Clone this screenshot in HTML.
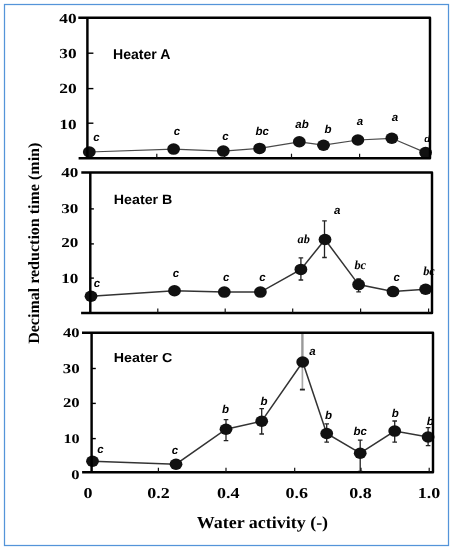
<!DOCTYPE html>
<html><head><meta charset="utf-8"><title>Decimal reduction time vs water activity</title>
<style>
html,body{margin:0;padding:0;background:#fff;}
body{width:453px;height:550px;overflow:hidden;}
svg{display:block;text-rendering:geometricPrecision;}
.tk{font-family:"Liberation Serif",serif;font-weight:bold;fill:#000;}
.hd{font-family:"Liberation Sans",sans-serif;font-weight:bold;fill:#000;}
.ls{font-family:"Liberation Sans",sans-serif;font-weight:bold;font-style:italic;fill:#000;}
.lt{font-family:"Liberation Serif",serif;font-weight:bold;font-style:italic;fill:#000;}
</style></head><body>
<svg width="453" height="550" viewBox="0 0 453 550">
<rect x="4.5" y="4.5" width="444" height="541" fill="none" stroke="#5494d9" stroke-width="1.25"/>
<path d="M89.3,152.0 L173.6,149.1 L223.3,151.1 L259.6,148.4 L299.3,141.8 L323.5,145.2 L357.9,140.0 L391.8,138.3 L425.6,152.6" fill="none" stroke="#4a4a4a" stroke-width="1.2"/>
<ellipse cx="89.3" cy="152.0" rx="6.4" ry="5.75" fill="#111"/>
<ellipse cx="173.6" cy="149.1" rx="6.4" ry="5.75" fill="#111"/>
<ellipse cx="223.3" cy="151.1" rx="6.4" ry="5.75" fill="#111"/>
<ellipse cx="259.6" cy="148.4" rx="6.4" ry="5.75" fill="#111"/>
<ellipse cx="299.3" cy="141.8" rx="6.4" ry="5.75" fill="#111"/>
<ellipse cx="323.5" cy="145.2" rx="6.4" ry="5.75" fill="#111"/>
<ellipse cx="357.9" cy="140.0" rx="6.4" ry="5.75" fill="#111"/>
<ellipse cx="391.8" cy="138.3" rx="6.4" ry="5.75" fill="#111"/>
<ellipse cx="425.6" cy="152.6" rx="6.4" ry="5.75" fill="#111"/>
<path d="M78.3,17.7 H430.0 V158.2 H78.6 M87.4,17.7 V158.2" fill="none" stroke="#000" stroke-width="2.45" stroke-linejoin="round"/>
<line x1="87.4" y1="53.2" x2="93.4" y2="53.2" stroke="#000" stroke-width="1.4"/>
<line x1="87.4" y1="88.6" x2="93.4" y2="88.6" stroke="#000" stroke-width="1.4"/>
<line x1="87.4" y1="123.2" x2="93.4" y2="123.2" stroke="#000" stroke-width="1.4"/>
<line x1="156.8" y1="158.2" x2="156.8" y2="153.7" stroke="#111" stroke-width="1.2"/>
<line x1="224.5" y1="158.2" x2="224.5" y2="153.7" stroke="#111" stroke-width="1.2"/>
<line x1="291.5" y1="158.2" x2="291.5" y2="153.7" stroke="#111" stroke-width="1.2"/>
<line x1="359.6" y1="158.2" x2="359.6" y2="153.7" stroke="#111" stroke-width="1.2"/>
<text class="tk" style="font-size:13.82px" transform="translate(59.37,22.68) scale(1.250,1)">40</text>
<text class="tk" style="font-size:13.82px" transform="translate(59.37,57.88) scale(1.250,1)">30</text>
<text class="tk" style="font-size:13.96px" transform="translate(59.19,92.98) scale(1.250,1)">20</text>
<text class="tk" style="font-size:13.96px" transform="translate(59.45,128.78) scale(1.231,1)">10</text>
<text class="hd" style="font-size:14.05px" transform="translate(113.02,59.48)">Heater A</text>
<text class="ls" style="font-size:11.50px" transform="translate(93.27,140.85)">c</text>
<text class="ls" style="font-size:11.50px" transform="translate(173.77,135.45)">c</text>
<text class="ls" style="font-size:11.50px" transform="translate(222.37,140.35)">c</text>
<text class="ls" style="font-size:11.50px" transform="translate(255.45,135.13)">bc</text>
<text class="ls" style="font-size:11.50px" transform="translate(295.29,127.93)">ab</text>
<text class="ls" style="font-size:11.50px" transform="translate(324.50,132.63)">b</text>
<text class="ls" style="font-size:11.50px" transform="translate(356.85,124.95)">a</text>
<text class="ls" style="font-size:11.50px" transform="translate(391.65,121.35)">a</text>
<text class="ls" style="font-size:9.50px" transform="translate(424.18,142.01)">d</text>
<path d="M91.0,296.2 L174.5,290.7 L224.3,292.1 L260.4,292.1 L300.9,269.4 L325.0,239.5 L358.6,284.6 L393.0,291.6 L425.6,289.3" fill="none" stroke="#333" stroke-width="1.5"/>
<path d="M300.9,257.9 V280.0 M298.59999999999997,257.9 h4.6 M298.59999999999997,280.0 h4.6" stroke="#222" stroke-width="1.3" fill="none"/>
<path d="M324.5,220.9 V257.5 M322.2,220.9 h4.6 M322.2,257.5 h4.6" stroke="#222" stroke-width="1.3" fill="none"/>
<path d="M358.6,279 V291.8 M356.3,279 h4.6 M356.3,291.8 h4.6" stroke="#222" stroke-width="1.3" fill="none"/>
<ellipse cx="91.0" cy="296.2" rx="6.4" ry="5.75" fill="#111"/>
<ellipse cx="174.5" cy="290.7" rx="6.4" ry="5.75" fill="#111"/>
<ellipse cx="224.3" cy="292.1" rx="6.4" ry="5.75" fill="#111"/>
<ellipse cx="260.4" cy="292.1" rx="6.4" ry="5.75" fill="#111"/>
<ellipse cx="300.9" cy="269.4" rx="6.4" ry="5.75" fill="#111"/>
<ellipse cx="325.0" cy="239.5" rx="6.4" ry="5.75" fill="#111"/>
<ellipse cx="358.6" cy="284.6" rx="6.4" ry="5.75" fill="#111"/>
<ellipse cx="393.0" cy="291.6" rx="6.4" ry="5.75" fill="#111"/>
<ellipse cx="425.6" cy="289.3" rx="6.4" ry="5.75" fill="#111"/>
<path d="M81.3,172.4 H432.0 V313.0 H81.1 M90.3,172.4 V313.0" fill="none" stroke="#000" stroke-width="2.45" stroke-linejoin="round"/>
<line x1="90.3" y1="208.9" x2="93.89999999999999" y2="208.9" stroke="#000" stroke-width="1.4"/>
<line x1="90.3" y1="243.9" x2="93.89999999999999" y2="243.9" stroke="#000" stroke-width="1.4"/>
<line x1="90.3" y1="278.1" x2="93.89999999999999" y2="278.1" stroke="#000" stroke-width="1.4"/>
<line x1="157.8" y1="313.0" x2="157.8" y2="308.5" stroke="#111" stroke-width="1.2"/>
<line x1="225.2" y1="313.0" x2="225.2" y2="308.5" stroke="#111" stroke-width="1.2"/>
<line x1="292.7" y1="313.0" x2="292.7" y2="308.5" stroke="#111" stroke-width="1.2"/>
<line x1="360.6" y1="313.0" x2="360.6" y2="308.5" stroke="#111" stroke-width="1.2"/>
<line x1="428.6" y1="313.0" x2="428.6" y2="308.5" stroke="#111" stroke-width="1.2"/>
<text class="tk" style="font-size:13.67px" transform="translate(61.24,177.29) scale(1.250,1)">40</text>
<text class="tk" style="font-size:13.67px" transform="translate(61.24,212.69) scale(1.250,1)">30</text>
<text class="tk" style="font-size:13.67px" transform="translate(61.24,247.49) scale(1.250,1)">20</text>
<text class="tk" style="font-size:13.96px" transform="translate(61.15,283.18) scale(1.231,1)">10</text>
<text class="hd" style="font-size:13.50px" transform="translate(113.81,203.59) scale(1.054,1)">Heater B</text>
<text class="ls" style="font-size:11.50px" transform="translate(93.87,287.25)">c</text>
<text class="ls" style="font-size:11.50px" transform="translate(172.87,277.45)">c</text>
<text class="ls" style="font-size:11.50px" transform="translate(222.97,280.75)">c</text>
<text class="ls" style="font-size:11.50px" transform="translate(259.17,280.75)">c</text>
<text class="lt" style="font-size:12.30px" transform="translate(297.55,242.83)">ab</text>
<text class="ls" style="font-size:11.50px" transform="translate(333.95,213.85)">a</text>
<text class="lt" style="font-size:12.30px" transform="translate(354.43,268.63)">bc</text>
<text class="ls" style="font-size:11.50px" transform="translate(393.57,280.55)">c</text>
<text class="lt" style="font-size:12.30px" transform="translate(423.13,274.63)">bc</text>
<path d="M92.5,461.2 L176.0,464.2 L226.0,429.2 L261.7,421.2 L302.7,362.0 L326.7,433.5 L360.2,453.2 L394.7,431.1 L428.1,437.0" fill="none" stroke="#333" stroke-width="1.5"/>
<path d="M226.0,419.7 V440.6 M223.7,419.7 h4.6 M223.7,440.6 h4.6" stroke="#222" stroke-width="1.3" fill="none"/>
<path d="M261.7,408.6 V434.0 M259.4,408.6 h4.6 M259.4,434.0 h4.6" stroke="#222" stroke-width="1.3" fill="none"/>
<path d="M302.4,332.7 V362" stroke="#999" stroke-width="2.4" fill="none"/>
<path d="M302.4,362 V389.6" stroke="#a8a8a8" stroke-width="1.7" fill="none"/>
<path d="M299.9,389.6 h5" stroke="#222" stroke-width="1.8" fill="none"/>
<path d="M326.7,423.9 V442.2 M324.4,423.9 h4.6 M324.4,442.2 h4.6" stroke="#222" stroke-width="1.3" fill="none"/>
<path d="M360.2,440.1 V471.3 M357.9,440.1 h4.6 M357.9,471.3 h4.6" stroke="#222" stroke-width="1.3" fill="none"/>
<path d="M394.7,421.0 V442.2 M392.4,421.0 h4.6 M392.4,442.2 h4.6" stroke="#222" stroke-width="1.3" fill="none"/>
<path d="M428.1,427.6 V445.7 M425.8,427.6 h4.6 M425.8,445.7 h4.6" stroke="#222" stroke-width="1.3" fill="none"/>
<ellipse cx="92.5" cy="461.2" rx="6.4" ry="5.75" fill="#111"/>
<ellipse cx="176.0" cy="464.2" rx="6.4" ry="5.75" fill="#111"/>
<ellipse cx="226.0" cy="429.2" rx="6.4" ry="5.75" fill="#111"/>
<ellipse cx="261.7" cy="421.2" rx="6.4" ry="5.75" fill="#111"/>
<ellipse cx="302.7" cy="362.0" rx="6.4" ry="5.75" fill="#111"/>
<ellipse cx="326.7" cy="433.5" rx="6.4" ry="5.75" fill="#111"/>
<ellipse cx="360.2" cy="453.2" rx="6.4" ry="5.75" fill="#111"/>
<ellipse cx="394.7" cy="431.1" rx="6.4" ry="5.75" fill="#111"/>
<ellipse cx="428.1" cy="437.0" rx="6.4" ry="5.75" fill="#111"/>
<path d="M82.0,332.7 H433.0 V472.2 H82.1 M91.6,332.7 V472.2" fill="none" stroke="#000" stroke-width="2.45" stroke-linejoin="round"/>
<line x1="91.6" y1="368.5" x2="95.8" y2="368.5" stroke="#000" stroke-width="1.4"/>
<line x1="91.6" y1="403.4" x2="95.8" y2="403.4" stroke="#000" stroke-width="1.4"/>
<line x1="91.6" y1="438.6" x2="95.8" y2="438.6" stroke="#000" stroke-width="1.4"/>
<line x1="158.4" y1="472.2" x2="158.4" y2="467.7" stroke="#111" stroke-width="1.2"/>
<line x1="226.0" y1="472.2" x2="226.0" y2="467.7" stroke="#111" stroke-width="1.2"/>
<line x1="294.7" y1="472.2" x2="294.7" y2="467.7" stroke="#111" stroke-width="1.2"/>
<line x1="361.0" y1="472.2" x2="361.0" y2="467.7" stroke="#111" stroke-width="1.2"/>
<line x1="429.2" y1="472.2" x2="429.2" y2="467.7" stroke="#111" stroke-width="1.2"/>
<text class="tk" style="font-size:13.24px" transform="translate(63.07,336.99) scale(1.250,1)">40</text>
<text class="tk" style="font-size:13.53px" transform="translate(62.72,372.59) scale(1.250,1)">30</text>
<text class="tk" style="font-size:13.38px" transform="translate(62.90,406.99) scale(1.250,1)">20</text>
<text class="tk" style="font-size:13.24px" transform="translate(63.41,443.39) scale(1.224,1)">10</text>
<text class="tk" style="font-size:13.24px" transform="translate(71.34,478.79) scale(1.250,1)">0</text>
<text class="hd" style="font-size:13.08px" transform="translate(113.81,362.20) scale(1.089,1)">Heater C</text>
<text class="ls" style="font-size:11.50px" transform="translate(97.17,452.95)">c</text>
<text class="ls" style="font-size:11.50px" transform="translate(171.77,453.95)">c</text>
<text class="ls" style="font-size:11.50px" transform="translate(222.10,413.33)">b</text>
<text class="ls" style="font-size:11.50px" transform="translate(260.50,405.13)">b</text>
<text class="ls" style="font-size:11.50px" transform="translate(309.25,354.55)">a</text>
<text class="ls" style="font-size:11.50px" transform="translate(325.10,419.13)">b</text>
<text class="ls" style="font-size:11.50px" transform="translate(353.55,434.83)">bc</text>
<text class="ls" style="font-size:11.50px" transform="translate(391.80,416.63)">b</text>
<text class="ls" style="font-size:11.50px" transform="translate(426.70,424.53)">b</text>
<text class="tk" style="font-size:15.13px" transform="translate(83.50,498.46) scale(1.190,1)">0</text>
<text class="tk" style="font-size:15.13px" transform="translate(147.35,498.46) scale(1.190,1)">0.2</text>
<text class="tk" style="font-size:15.13px" transform="translate(216.91,498.46) scale(1.190,1)">0.4</text>
<text class="tk" style="font-size:15.13px" transform="translate(285.41,498.46) scale(1.190,1)">0.6</text>
<text class="tk" style="font-size:15.13px" transform="translate(349.15,498.46) scale(1.190,1)">0.8</text>
<text class="tk" style="font-size:15.13px" transform="translate(417.83,498.46) scale(1.190,1)">1.0</text>
<text class="tk" style="font-size:16.90px" transform="translate(196.70,528.20) scale(1.064,1)">Water activity (-)</text>
<text class="tk" style="font-size:15.7px" transform="translate(39.20,343.85) rotate(-90) scale(1.021,1)">Decimal reduction time (min)</text>
</svg>
</body></html>
